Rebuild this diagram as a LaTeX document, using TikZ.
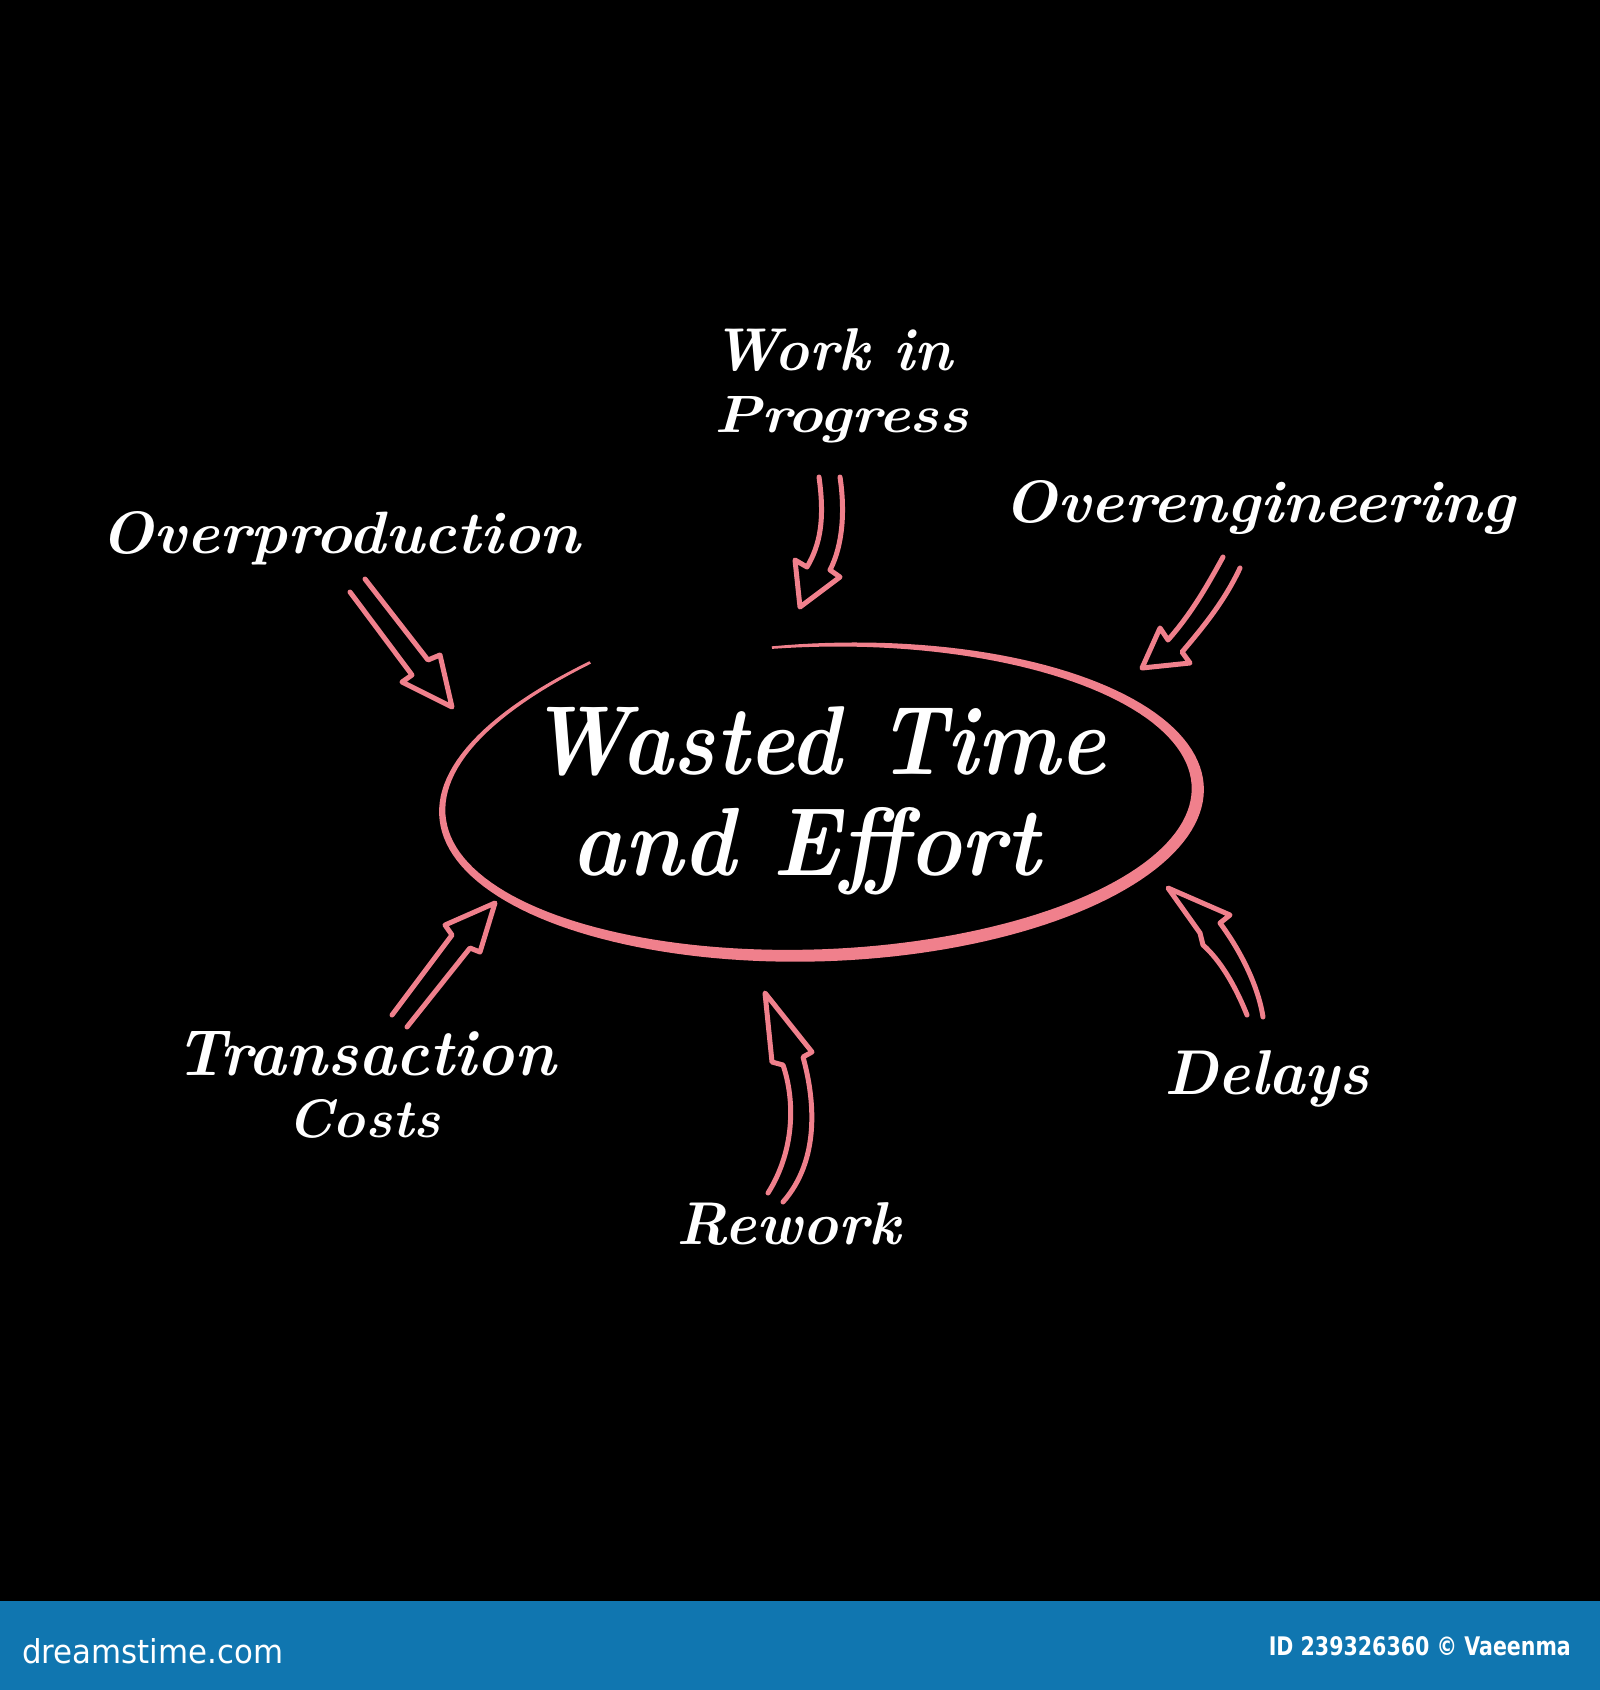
\documentclass[tikz,border=0pt]{standalone}
\usepackage{fontspec}
\newfontfamily\barfont{DejaVu Sans}
\usepackage{graphicx}
\definecolor{wpink}{RGB}{240,128,140}
\definecolor{barblue}{RGB}{16,118,176}
\begin{document}
\begin{tikzpicture}[x=1pt,y=-1pt,
  parrow/.style={draw=wpink, line width=5pt, line join=round, line cap=round},
  lbl/.style={text=white, inner sep=0pt, font=\bfseries\itshape},
  barlbl/.style={text=white, inner sep=0pt, font=\barfont},
  declare function={rr(\t)=(\t-126)/331;
    wd(\t)=2.5+6*sin(180*rr(\t))+5*sin(180*pow(rr(\t),1.6));
    fy(\t)=1+0.17*pow(1-rr(\t),8);}]
\fill[black] (0,0) rectangle (1600,1690);
\useasboundingbox (0,0) rectangle (1600,1690);

% central hand-drawn ellipse
\fill[wpink, rotate around={2:(820,800)}]
  plot[domain=126.5:456.5,samples=160] ({820+(378+wd(\x)/2)*cos(\x)},{800-fy(\x)*(155+wd(\x)/2)*sin(\x)})
  -- plot[domain=456.5:126.5,samples=160] ({820+(378-wd(\x)/2)*cos(\x)},{800-fy(\x)*(155-wd(\x)/2)*sin(\x)})
  -- cycle;

% centre text
\node[lbl, anchor=base west] (c1) at (528,774) {\resizebox{577pt}{68pt}{Wasted Time}};
\node[lbl, anchor=base west] (c2) at (571,875) {\resizebox{469pt}{68pt}{and Effort}};

% labels
\node[lbl, anchor=base west] (wip1) at (712,370) {\resizebox{240pt}{42pt}{Work in}};
\node[lbl, anchor=base west] (wip2) at (714,432) {\resizebox{254pt}{36pt}{Progress}};
\node[lbl, anchor=base west] (ovp) at (100,553) {\resizebox{480pt}{42pt}{Overproduction}};
\node[lbl, anchor=base west] (ove) at (1003,522) {\resizebox{512pt}{42pt}{Overengineering}};
\node[lbl, anchor=base west] (tr1) at (175,1075) {\resizebox{380pt}{44pt}{Transaction}};
\node[lbl, anchor=base west] (tr2) at (287,1137) {\resizebox{153pt}{38pt}{Costs}};
\node[lbl, anchor=base west] (rew) at (676,1244) {\resizebox{224pt}{42pt}{Rework}};
\node[lbl, anchor=base west] (del) at (1164,1094) {\resizebox{205pt}{44pt}{Delays}};

% outline arrows
\draw[parrow] (365,579) -- (428,660) -- (440,655) -- (452,707) -- (402,682) -- (412,675) -- (350,592);
\draw[parrow] (819,477) .. controls (825,520) and (820,545) .. (807,567) -- (795,560) -- (800,607)
  -- (840,577) -- (830,570) .. controls (843,545) and (845,510) .. (840,477);
\draw[parrow] (1223,557) .. controls (1205,590) and (1190,615) .. (1168,640) -- (1160,628) -- (1142,668)
  -- (1190,663) -- (1182,652) .. controls (1205,625) and (1225,600) .. (1240,568);
\draw[parrow] (392,1015) -- (452,935) -- (445,925) -- (495,903) -- (480,952) -- (470,948) -- (407,1027);
\draw[parrow] (768,1193) .. controls (795,1150) and (795,1100) .. (783,1065) -- (772,1062) -- (765,993)
  -- (812,1052) -- (803,1057) .. controls (815,1100) and (820,1160) .. (783,1202);
\draw[parrow] (1247,1015) .. controls (1235,985) and (1220,960) .. (1203,945) -- (1200,933) -- (1168,888)
  -- (1230,915) -- (1220,923) .. controls (1240,950) and (1258,985) .. (1263,1017);

% bottom bar
\fill[barblue] (0,1601) rectangle (1600,1690);
\node[barlbl, anchor=base west] (brand) at (22,1663) {\resizebox{261pt}{25pt}{dreamstime.com}};
\node[barlbl, anchor=base east, font=\barfont\bfseries] (idtxt) at (1571,1655) {\resizebox{302pt}{19pt}{ID 239326360 © Vaeenma}};
\end{tikzpicture}
\end{document}
